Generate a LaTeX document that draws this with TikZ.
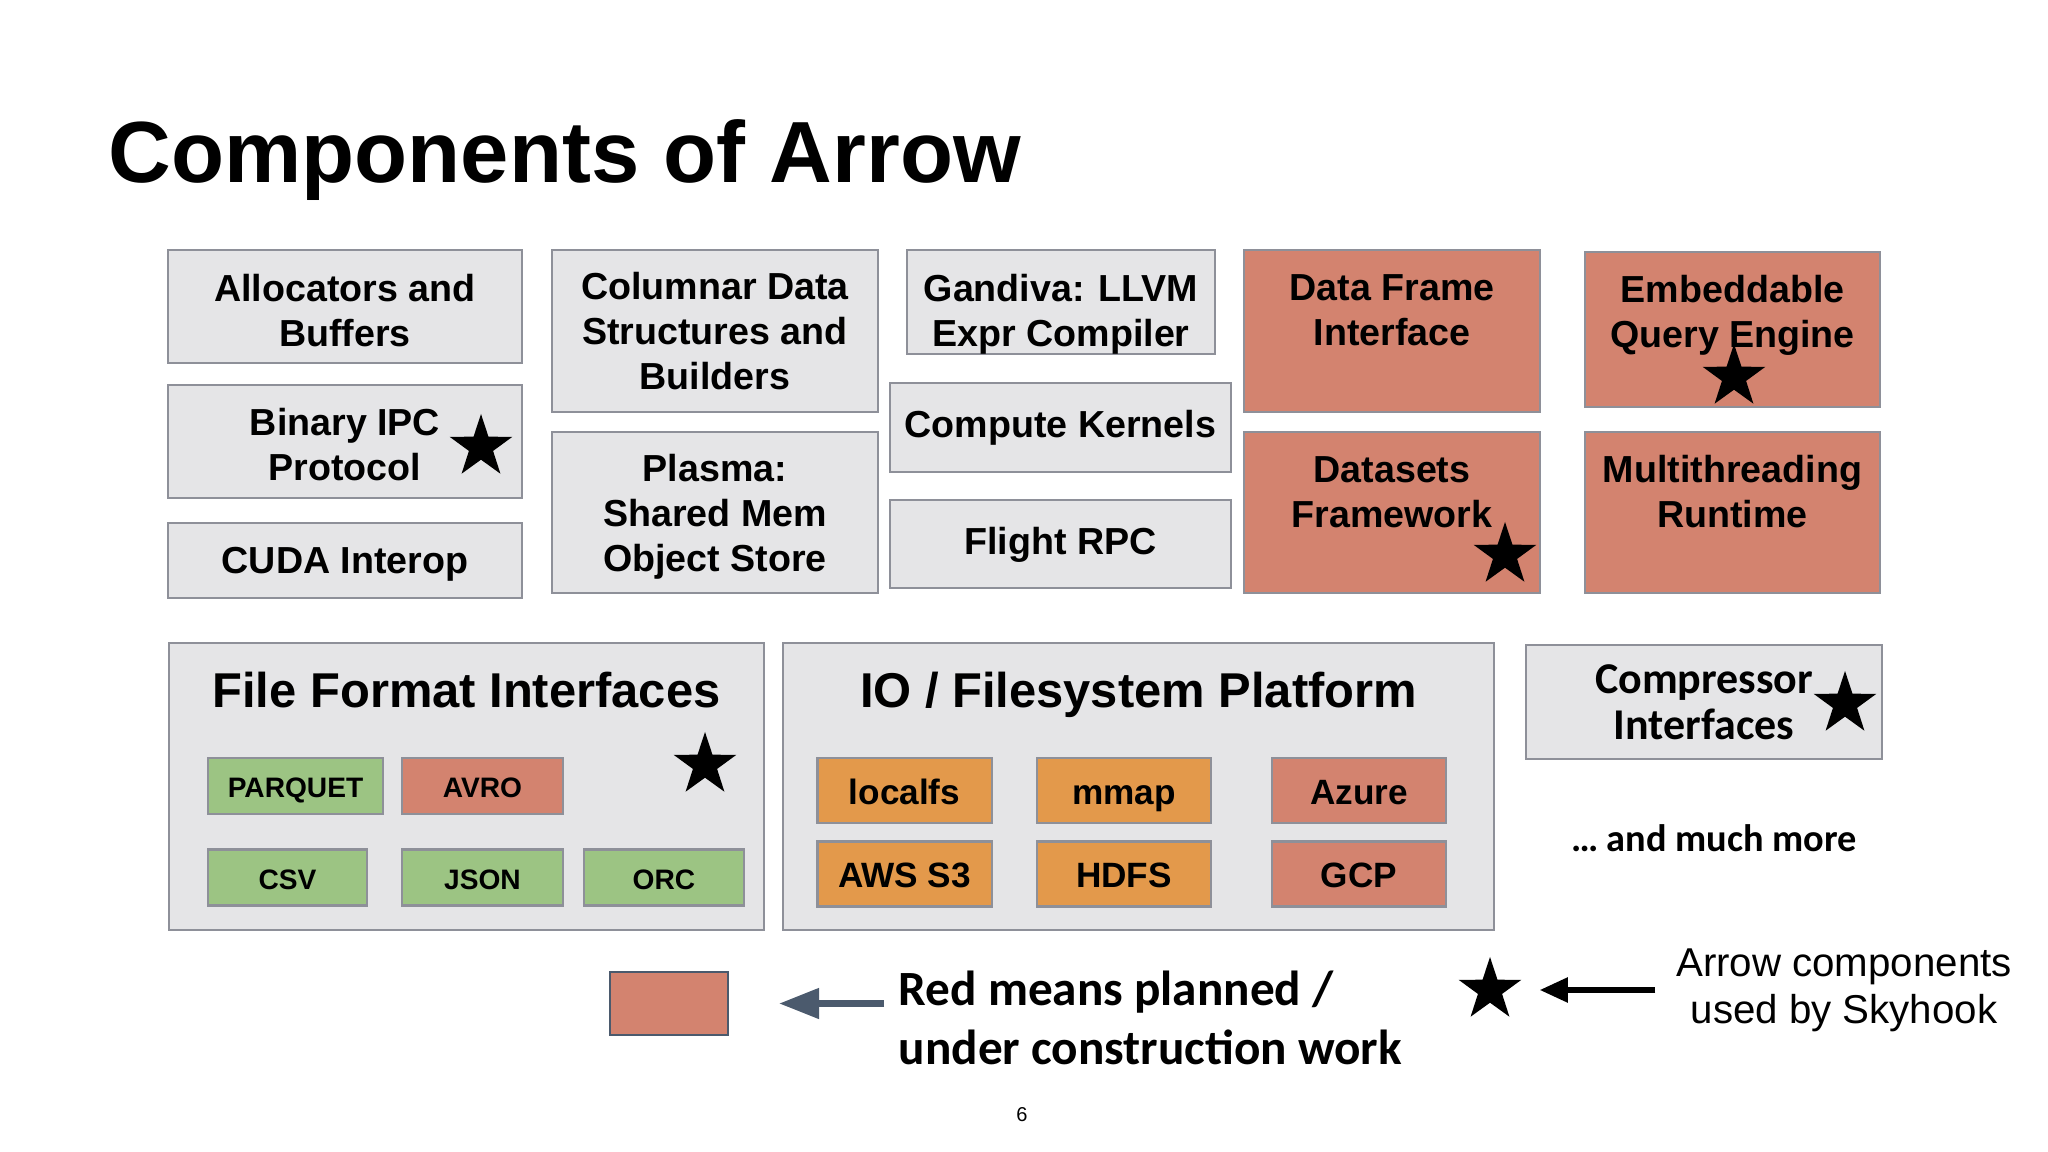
\documentclass[tikz,border=0pt]{standalone}
\usepackage{fontspec}
\setmainfont{Liberation Sans}
\newfontfamily\califont{Carlito}
\usetikzlibrary{arrows.meta,positioning,shapes.geometric}

\definecolor{boxgrey}{HTML}{E5E5E7}
\definecolor{edgegrey}{HTML}{8E9099}
\definecolor{planred}{HTML}{D3836F}
\definecolor{fmtgreen}{HTML}{9CC483}
\definecolor{fsorange}{HTML}{E3994B}
\definecolor{slate}{HTML}{4B5A6D}

\begin{document}
\begin{tikzpicture}[x=0.01cm,y=-0.01cm,>={Triangle},
  comp node/.style={rectangle,draw=edgegrey,fill=boxgrey,line width=0.6pt,
    font=\fontsize{10.7}{12.8}\selectfont\bfseries,align=center,inner sep=0pt,text depth=0pt},
  plan node/.style={comp node,fill=planred},
  box text/.style={font=\fontsize{10.7}{12.8}\selectfont\bfseries,align=center,inner sep=0pt,text depth=0pt},
  group title/.style={font=\fontsize{13.9}{16}\selectfont\bfseries,inner sep=0pt,anchor=base},
  fmt node/.style={rectangle,draw=edgegrey,fill=fmtgreen,line width=0.6pt,
    font=\fontsize{8}{9.6}\selectfont\bfseries,inner sep=0pt,minimum height=0.56cm,
    text height=0.28cm,text depth=0.05cm},
  fs node/.style={rectangle,draw=edgegrey,fill=fsorange,line width=0.6pt,
    font=\fontsize{10}{12}\selectfont\bfseries,inner sep=0pt,
    minimum width=1.74cm,minimum height=0.65cm,text height=0.33cm,text depth=0.06cm},
  used star/.style={star,star points=5,star point ratio=2.6,fill=black,
    inner sep=0pt,minimum size=0.66cm}]

  \fill[white] (0,0) rectangle (2048,1152);
  \useasboundingbox (0,0) rectangle (2048,1152);

  \node[anchor=base west,inner sep=0pt,font=\fontsize{24.7}{30}\selectfont\bfseries]
    (title) at (108,183) {Components of Arrow};

  % core libraries
  \node[comp node,minimum width=3.54cm,minimum height=1.13cm] (alloc) at (345,306.5) {};
  \node[comp node,minimum width=3.54cm,minimum height=1.13cm] (ipc) at (345,441.5) {};
  \node[comp node,minimum width=3.54cm,minimum height=0.75cm] (cuda) at (345,560.5) {CUDA Interop};
  \node[comp node,minimum width=3.26cm,minimum height=1.62cm] (columnar) at (715,331) {Columnar Data\\Structures and\\Builders};
  \node[comp node,minimum width=3.26cm,minimum height=1.61cm] (plasma) at (715,512.5) {Plasma:\\Shared Mem\\Object Store};
  \node[comp node,minimum width=3.08cm,minimum height=1.04cm] (gandiva) at (1061,302) {};
  \node[comp node,minimum width=3.41cm,minimum height=0.89cm,text depth=0.08cm] (kernels) at (1060.5,427.5) {Compute Kernels};
  \node[comp node,minimum width=3.41cm,minimum height=0.88cm,text depth=0.07cm] (flight) at (1060.5,544) {Flight RPC};
  \node[box text] (alloc text) at ([yshift=-0.04cm]alloc.center) {Allocators and\\Buffers};
  \node[box text] (ipc text) at ([yshift=-0.03cm]ipc.center) {Binary IPC\\Protocol};
  \node[box text] (gandiva text) at ([yshift=-0.08cm]gandiva.center) {Gandiva: LLVM\\Expr Compiler};

  % planned components
  \node[plan node,minimum width=2.96cm,minimum height=1.62cm] (dataframe) at (1392,331) {};
  \node[plan node,minimum width=2.96cm,minimum height=1.61cm] (datasets) at (1392,512.5) {};
  \node[plan node,minimum width=2.95cm,minimum height=1.55cm] (engine) at (1732.5,329.5) {};
  \node[plan node,minimum width=2.95cm,minimum height=1.61cm] (threads) at (1732.5,512.5) {};
  \node[box text] (dataframe text) at ([yshift=0.21cm]dataframe.center) {Data Frame\\Interface};
  \node[box text] (datasets text) at ([yshift=0.2cm]datasets.center) {Datasets\\Framework};
  \node[box text] (engine text) at ([yshift=0.18cm]engine.center) {Embeddable\\Query Engine};
  \node[box text] (threads text) at ([yshift=0.21cm]threads.center) {Multithreading\\Runtime};

  % file formats
  \node[comp node,minimum width=5.95cm,minimum height=2.87cm] (formats) at (466.5,786.5) {};
  \node[group title] (formats title) at (466.5,707) {File Format Interfaces};
  \node[fmt node,minimum width=1.75cm] (parquet) at (295.5,786) {PARQUET};
  \node[fmt node,minimum width=1.61cm,fill=planred] (avro) at (482.5,786) {AVRO};
  \node[fmt node,minimum width=1.59cm] (csv) at (287.5,877.5) {CSV};
  \node[fmt node,minimum width=1.61cm] (json) at (482.5,877.5) {JSON};
  \node[fmt node,minimum width=1.60cm] (orc) at (664,877.5) {ORC};

  % filesystems
  \node[comp node,minimum width=7.11cm,minimum height=2.87cm] (io) at (1138.5,786.5) {};
  \node[group title] (io title) at (1138.5,707) {IO / Filesystem Platform};
  \node[fs node] (localfs) at (904.5,790.5) {localfs};
  \node[fs node] (mmap) at (1124,790.5) {mmap};
  \node[fs node,fill=planred] (azure) at (1359,790.5) {Azure};
  \node[fs node] (s3) at (904.5,874) {AWS S3};
  \node[fs node] (hdfs) at (1124,874) {HDFS};
  \node[fs node,fill=planred] (gcp) at (1359,874) {GCP};

  \node[comp node,minimum width=3.56cm,minimum height=1.14cm,
    font=\califont\fontsize{12.5}{13}\selectfont\bfseries] (compressor) at (1704,702) {Compressor\\Interfaces};
  \node[inner sep=0pt,font=\califont\fontsize{10.9}{12}\selectfont\bfseries] (more) at (1714,838) {… and much more};

  % used by skyhook
  \node[used star] (ipc star) at (481,447) {};
  \node[used star] (engine star) at (1734,377) {};
  \node[used star] (datasets star) at (1505,555) {};
  \node[used star] (formats star) at (705,765) {};
  \node[used star] (compressor star) at (1845,704) {};

  % legend
  \node[rectangle,draw=slate,fill=planred,line width=0.5pt,inner sep=0pt,
    minimum width=1.18cm,minimum height=0.63cm] (legend box) at (669,1003.5) {};
  \node[anchor=west,inner sep=0pt,align=left,font=\califont\fontsize{14}{16.8}\selectfont\bfseries]
    (legend red) at (898,1018) {Red means planned /\\under construction work};
  \node[used star] (legend star) at (1490,990) {};
  \node[inner sep=0pt,align=center,font=\fontsize{11.45}{13.3}\selectfont]
    (legend sky) at (1844,990) {Arrow components\\used by Skyhook};

  \draw[->,slate,line width=2pt,>={Triangle[length=11.4pt,width=8.3pt]},
    shorten <=0.14cm,shorten >=0.5cm] (legend box.east -| legend red.west) -- (legend box.east);
  \draw[->,black,line width=1.6pt,>={Triangle[length=8pt,width=6.8pt]},
    shorten <=0.2cm,shorten >=0.31cm] (legend sky.west) -- (legend star.east);

  \node[inner sep=0pt,font=\fontsize{5.7}{7}\selectfont] (page) at (1022,1115) {6};

\end{tikzpicture}
\end{document}
